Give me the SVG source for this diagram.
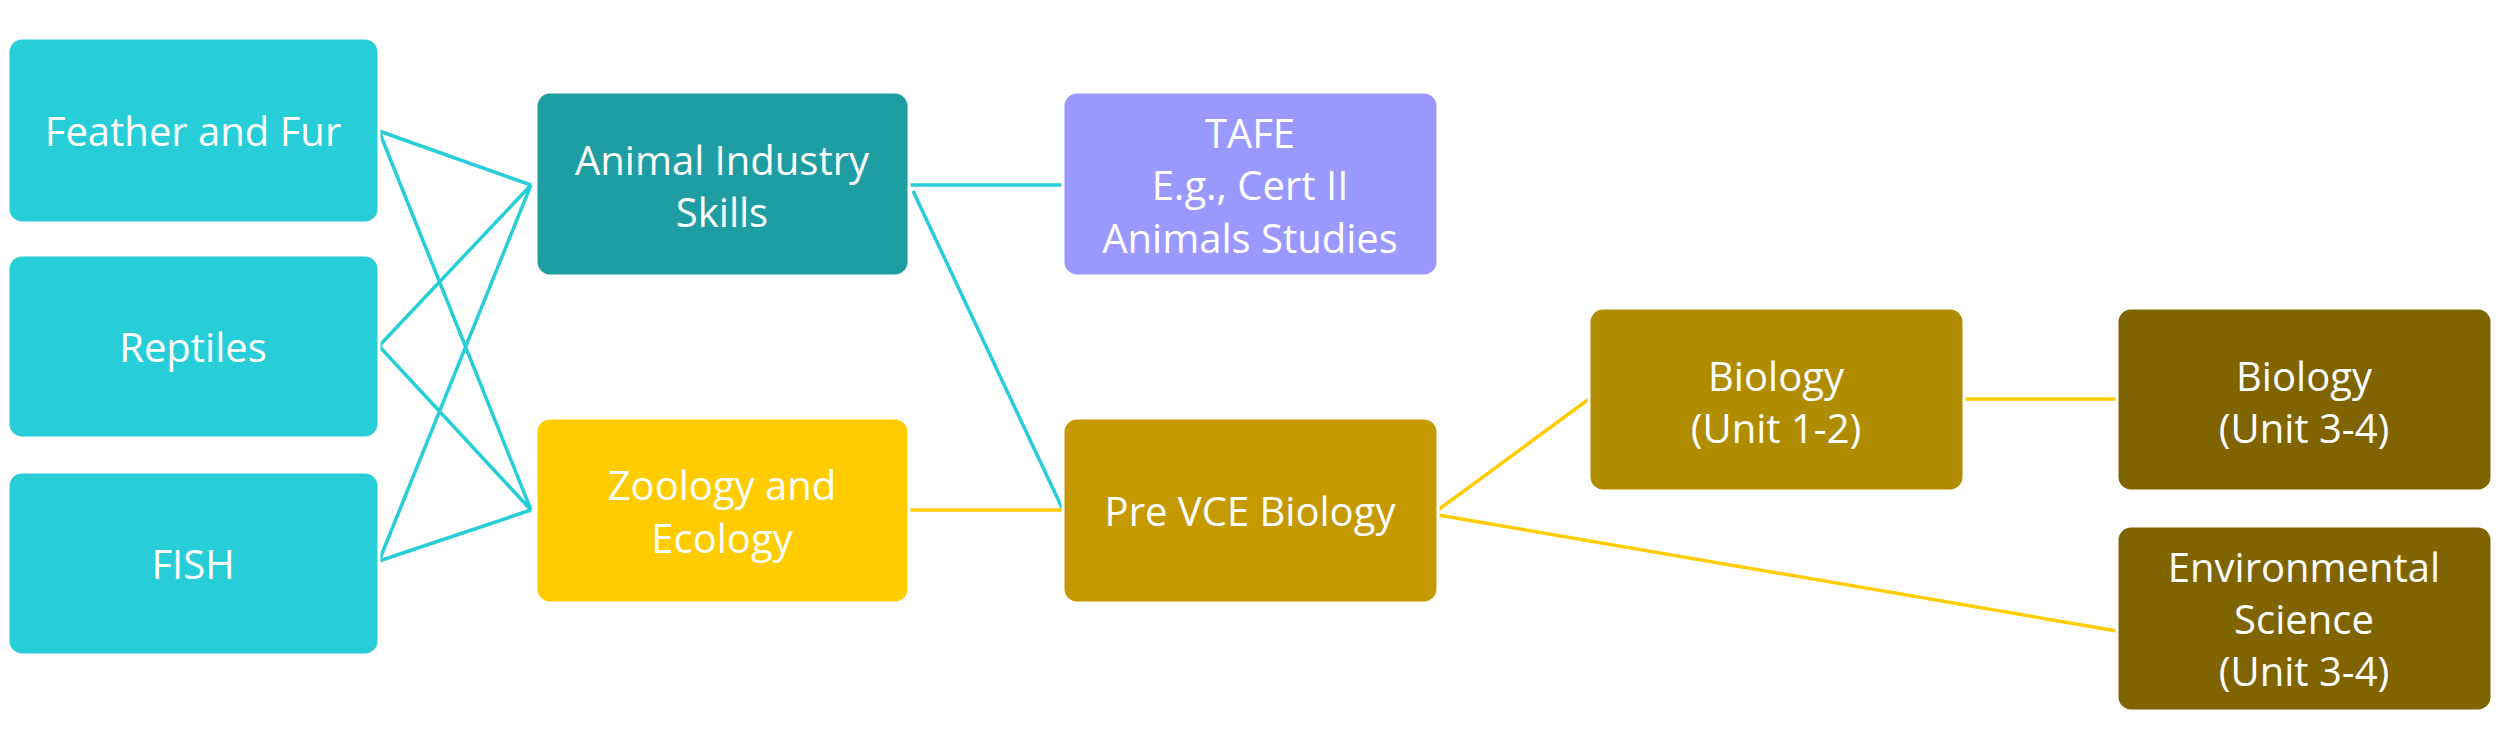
<svg xmlns="http://www.w3.org/2000/svg" width="2500" height="749" viewBox="0 0 2500 749">
<style>
.b{stroke:#fff;stroke-width:3}
text{font-family:"Open Sans","Liberation Sans",sans-serif;font-size:40px;fill:#fff;text-anchor:middle;dominant-baseline:central}
.c{stroke:#27CED7;stroke-width:3.5;fill:none}
.y{stroke:#FFCC00;stroke-width:3.5;fill:none}
</style>
<rect width="2500" height="749" fill="#fff"/>
<g id="connectors">
<path class="c" d="M379,131L531,185M379,131L531,510M379,346L531,185M379,346L531,510M379,561L531,185M379,561L531,510M909,185L1063,185M913,191L1063,510"/>
<path class="y" d="M909,510L1063,510M1438,510L1589,399M1964,399L2117,399M1438,515L2117,631"/>
</g>
<g id="feather"><rect class="b" x="8" y="38" width="371" height="185" rx="14" fill="#27CED7"/><text x="193" y="130">Feather and Fur</text></g>
<g id="reptiles"><rect class="b" x="8" y="255" width="371" height="183" rx="14" fill="#27CED7"/><text x="193" y="346">Reptiles</text></g>
<g id="fish"><rect class="b" x="8" y="472" width="371" height="183" rx="14" fill="#27CED7"/><text x="193" y="563">FISH</text></g>
<g id="animal"><rect class="b" x="536" y="92" width="373" height="184" rx="14" fill="#1E9EA2"/><text x="722" y="159">Animal Industry</text><text x="722" y="211">Skills</text></g>
<g id="zoology"><rect class="b" x="536" y="418" width="373" height="185" rx="14" fill="#FFCC00"/><text x="722" y="484">Zoology and</text><text x="722" y="537">Ecology</text></g>
<g id="tafe"><rect class="b" x="1063" y="92" width="375" height="184" rx="14" fill="#9999FF"/><text x="1250" y="132">TAFE</text><text x="1250" y="184">E.g., Cert II</text><text x="1250" y="237">Animals Studies</text></g>
<g id="prevce"><rect class="b" x="1063" y="418" width="375" height="185" rx="14" fill="#C49A00"/><text x="1250" y="510">Pre VCE Biology</text></g>
<g id="bio12"><rect class="b" x="1589" y="308" width="375" height="183" rx="14" fill="#B08C00"/><text x="1776" y="375">Biology</text><text x="1776" y="427">(Unit 1-2)</text></g>
<g id="bio34"><rect class="b" x="2117" y="308" width="375" height="183" rx="14" fill="#806400"/><text x="2304" y="375">Biology</text><text x="2304" y="427">(Unit 3-4)</text></g>
<g id="env"><rect class="b" x="2117" y="526" width="375" height="185" rx="14" fill="#806400"/><text x="2304" y="566">Environmental</text><text x="2304" y="618">Science</text><text x="2304" y="670">(Unit 3-4)</text></g>
</svg>
